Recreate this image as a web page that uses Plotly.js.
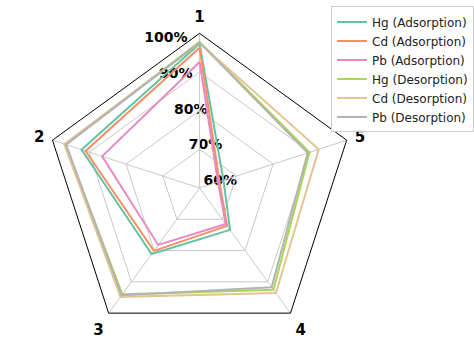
<!DOCTYPE html>
<html>
<head>
<meta charset="utf-8">
<script src="https://cdn.plot.ly/plotly-3.0.1.min.js"></script>
<style>html,body{margin:0;padding:0;background:#fff;}#chart{width:474px;height:355px;}</style>
</head>
<body>
<div id="chart"></div>
<script>
const axes = ['1', '2', '3', '4', '5'];
const seriesNames = ['Hg (Adsorption)', 'Cd (Adsorption)', 'Pb (Adsorption)', 'Hg (Desorption)', 'Cd (Desorption)', 'Pb (Desorption)'];
const hgAds = [97.3, 92.1, 81.1, 73.4, 66.5];
const cdAds = [96.3, 91.0, 80.1, 72.1, 65.4];
const pbAds = [92.6, 86.5, 78.2, 71.5, 65.0];
const hgDes = [97.8, 96.5, 94.0, 92.5, 89.9];
const cdDes = [97.5, 96.8, 94.8, 93.6, 92.4];
const pbDes = [97.6, 96.3, 94.3, 91.7, 89.4];
const colors = ['#66c2a5', '#fc8d62', '#e78ac3', '#a6d854', '#e5c494', '#b3b3b3'];
const radialTicks = [60, 70, 80, 90, 100];
const radialTickText = ['60%', '70%', '80%', '90%', '100%'];

const allSeries = [hgAds, cdAds, pbAds, hgDes, cdDes, pbDes];
const traces = [{
  type: 'scatterpolar', mode: 'lines', r: [], theta: [],
  subplot: 'polar', showlegend: false, hoverinfo: 'skip'
}].concat(allSeries.map((vals, i) => ({
  type: 'scatterpolar',
  mode: 'lines',
  subplot: 'polar2',
  r: vals.concat([vals[0]]),
  theta: axes.concat([axes[0]]),
  name: seriesNames[i],
  line: {color: colors[i], width: 2},
  hoverinfo: 'skip'
})));

const dom = {x: [45/474, 355/474], y: [1 - 343/355, 1 - 33/355]};
const labelDom = {x: [42/474, 352/474], y: [1 - 336/355, 1 - 26/355]};

const layout = {
  width: 474, height: 355,
  margin: {l: 0, r: 0, t: 0, b: 0},
  paper_bgcolor: '#ffffff',
  font: {family: 'DejaVu Sans, sans-serif', color: '#000'},
  showlegend: true,
  legend: {
    x: 0.70, y: 0.982, xanchor: 'left', yanchor: 'top',
    bgcolor: 'rgba(255,255,255,0.9)', bordercolor: '#cccccc', borderwidth: 1,
    font: {size: 12, family: 'DejaVu Sans, sans-serif', color: '#222'}
  },
  // radial percentage labels (circular helper so the label ray can sit between spokes)
  polar: {
    domain: labelDom,
    gridshape: 'circular',
    bgcolor: 'rgba(0,0,0,0)',
    angularaxis: {visible: false, showgrid: false, showline: false, showticklabels: false, ticks: ''},
    radialaxis: {
      range: [60, 100], tickvals: radialTicks, ticktext: radialTickText,
      angle: 112.5, tickangle: 112.5, side: 'clockwise',
      showline: false, showgrid: false, ticks: '',
      tickfont: {size: 14, family: 'DejaVu Sans, sans-serif', weight: 'bold', color: '#000'}
    }
  },
  // pentagon grid and data
  polar2: {
    domain: dom,
    gridshape: 'linear',
    bgcolor: 'rgba(0,0,0,0)',
    angularaxis: {
      type: 'category', categoryarray: axes,
      direction: 'counterclockwise', rotation: 90,
      showline: true, linecolor: '#000', linewidth: 1,
      gridcolor: '#c8c8c8', gridwidth: 1,
      ticks: 'outside', ticklen: 5, tickcolor: 'rgba(0,0,0,0)',
      tickfont: {size: 15, family: 'DejaVu Sans, sans-serif', weight: 'bold', color: '#000'}
    },
    radialaxis: {
      range: [60, 100], tickvals: radialTicks,
      showticklabels: false, showline: false, ticks: '',
      gridcolor: '#c8c8c8', gridwidth: 1
    }
  }
};

Plotly.newPlot('chart', traces, layout, {displayModeBar: false, staticPlot: true});
</script>
</body>
</html>
